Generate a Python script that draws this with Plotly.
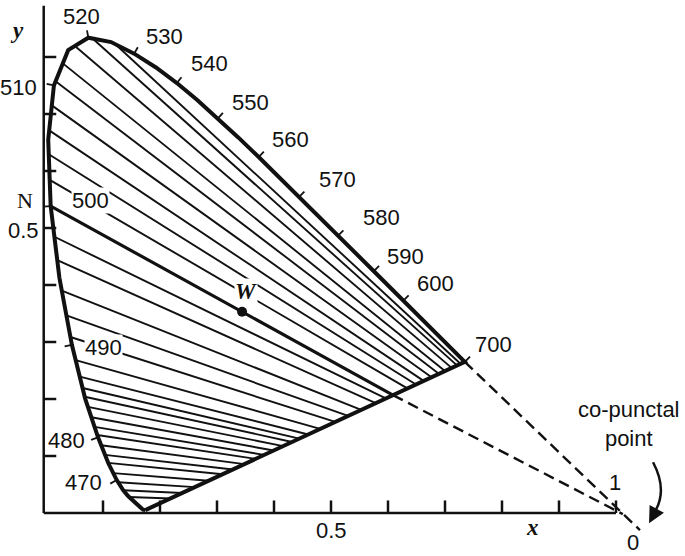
import numpy as np
import plotly.graph_objects as go

# CIE 1931 spectral locus, 380-700 nm in 5 nm steps
wavelengths = list(range(380, 705, 5))
locus_x = [0.1741, 0.1740, 0.1738, 0.1736, 0.1733, 0.1730, 0.1726, 0.1721, 0.1714, 0.1703,
           0.1689, 0.1669, 0.1644, 0.1611, 0.1566, 0.1510, 0.1440, 0.1355, 0.1241, 0.1096,
           0.0913, 0.0687, 0.0454, 0.0235, 0.0082, 0.0039, 0.0139, 0.0389, 0.0743, 0.1142,
           0.1547, 0.1929, 0.2296, 0.2658, 0.3016, 0.3373, 0.3731, 0.4087, 0.4441, 0.4788,
           0.5125, 0.5448, 0.5752, 0.6029, 0.6270, 0.6482, 0.6658, 0.6801, 0.6915, 0.7006,
           0.7079, 0.7140, 0.7190, 0.7230, 0.7260, 0.7283, 0.7300, 0.7311, 0.7320, 0.7327,
           0.7334, 0.7340, 0.7344, 0.7346, 0.7347]
locus_y = [0.0050, 0.0050, 0.0049, 0.0049, 0.0048, 0.0048, 0.0048, 0.0048, 0.0051, 0.0058,
           0.0069, 0.0086, 0.0109, 0.0138, 0.0177, 0.0227, 0.0297, 0.0399, 0.0578, 0.0868,
           0.1327, 0.2007, 0.2950, 0.4127, 0.5384, 0.6548, 0.7502, 0.8120, 0.8338, 0.8262,
           0.8059, 0.7816, 0.7543, 0.7243, 0.6923, 0.6589, 0.6245, 0.5896, 0.5547, 0.5202,
           0.4866, 0.4544, 0.4242, 0.3965, 0.3725, 0.3514, 0.3340, 0.3197, 0.3083, 0.2993,
           0.2920, 0.2859, 0.2809, 0.2770, 0.2740, 0.2717, 0.2700, 0.2689, 0.2680, 0.2673,
           0.2666, 0.2660, 0.2656, 0.2654, 0.2653]

labelled_nm = [470, 480, 490, 500, 510, 520, 530, 540, 550, 560, 570, 580, 590, 600, 700]

# where each confusion line leaves the left/top part of the locus
anchor_x = [0.133, 0.081, 0.051, 0.033, 0.025, 0.016, 0.012, 0.012, 0.016,
            0.016, 0.019, 0.026, 0.035, 0.042, 0.053, 0.060, 0.065, 0.068, 0.074,
            0.079, 0.086, 0.089, 0.096, 0.104, 0.109, 0.118, 0.126, 0.135, 0.146]
anchor_y = [0.812, 0.833, 0.819, 0.786, 0.751, 0.711, 0.667, 0.625, 0.579,
            0.484, 0.444, 0.391, 0.347, 0.309, 0.268, 0.239, 0.219, 0.204, 0.186,
            0.168, 0.151, 0.137, 0.119, 0.102, 0.088, 0.070, 0.054, 0.040, 0.028]

white_x, white_y = 0.344, 0.353
copunctal_x, copunctal_y = 1.012, -0.002
dash_end_x, dash_end_y = 1.042, -0.030

x_ticks = [0.1, 0.2, 0.3, 0.4, 0.5, 0.6, 0.7, 0.8, 0.9, 1.0]
y_ticks = [0.1, 0.2, 0.3, 0.4, 0.5, 0.6, 0.7, 0.8]

# curved pointer under "co-punctal point": start, control, end
arrow_pts = [(1.065, 0.089), (1.091, 0.040), (1.068, 0.002)]
arrow_tip = (1.058, -0.018)

# label offsets from the locus point, pixels (right, down)
label_off = {470: (-33, 2), 480: (-32, 3), 490: (32, 3), 500: (40, -6), 510: (-35, 2),
             520: (-7, -21), 530: (30, -17), 540: (33, -20), 550: (33, -16), 560: (32, -18),
             570: (38, -17), 580: (43, -18), 590: (32, -15), 600: (32, -17), 700: (29, -17)}

INK = "#111111"
SANS = "Liberation Sans, Arial, sans-serif"
SERIF = "Liberation Serif, Times New Roman, serif"

SCALE = 570.0      # pixels per chromaticity unit
X0_PX, Y0_PX = 46, 513

poly_x = locus_x + [locus_x[0]]
poly_y = locus_y + [locus_y[0]]


def chord(x0, y0, x1, y1):
    # segment of the line through (x0,y0)-(x1,y1) that lies inside the gamut
    a = np.array([x0, y0])
    d = np.array([x1 - x0, y1 - y0])
    ts = []
    for i in range(len(poly_x) - 1):
        p1 = np.array([poly_x[i], poly_y[i]])
        e = np.array([poly_x[i + 1], poly_y[i + 1]]) - p1
        den = d[0] * e[1] - d[1] * e[0]
        if abs(den) < 1e-12:
            continue
        w = p1 - a
        t = (w[0] * e[1] - w[1] * e[0]) / den
        s = (w[0] * d[1] - w[1] * d[0]) / den
        if -1e-9 <= s <= 1 + 1e-9:
            ts.append(t)
    return a + min(ts) * d, a + max(ts) * d


fig = go.Figure()

# confusion lines
cx, cy = [], []
for ax_, ay_ in zip(anchor_x, anchor_y):
    p, q = chord(ax_, ay_, copunctal_x, copunctal_y)
    cx += [p[0], q[0], None]
    cy += [p[1], q[1], None]
fig.add_trace(go.Scatter(x=cx, y=cy, mode="lines", line=dict(color=INK, width=1.9),
                         hoverinfo="skip"))

# neutral line through W
i500 = wavelengths.index(500)
n0, n1 = chord(locus_x[i500], locus_y[i500], white_x, white_y)
fig.add_trace(go.Scatter(x=[n0[0], n1[0]], y=[n0[1], n1[1]], mode="lines",
                         line=dict(color=INK, width=3.2), hoverinfo="skip"))

# dashed lines to the co-punctal point
fig.add_trace(go.Scatter(x=[n1[0], copunctal_x, None, locus_x[-1], dash_end_x],
                         y=[n1[1], copunctal_y, None, locus_y[-1], dash_end_y],
                         mode="lines", line=dict(color=INK, width=2.4, dash="11px,6px"),
                         hoverinfo="skip"))

# spectral locus and purple line
fig.add_trace(go.Scatter(x=poly_x, y=poly_y, mode="lines",
                         line=dict(color=INK, width=4), hoverinfo="skip"))

# wavelength ticks on the locus
tx, ty = [], []
for nm in labelled_nm:
    i = wavelengths.index(nm)
    j0, j1 = max(i - 1, 0), min(i + 1, len(wavelengths) - 1)
    t = np.array([locus_x[j1] - locus_x[j0], locus_y[j1] - locus_y[j0]])
    t = t / np.hypot(*t)
    nrm = np.array([-t[1], t[0]])
    tx += [locus_x[i], locus_x[i] + 0.013 * nrm[0], None]
    ty += [locus_y[i], locus_y[i] + 0.013 * nrm[1], None]
fig.add_trace(go.Scatter(x=tx, y=ty, mode="lines", line=dict(color=INK, width=1.8),
                         hoverinfo="skip"))

# axes with inward ticks
ax_x = [-0.004, 1.0, None] + sum([[v, v, None] for v in x_ticks], [])
ax_y = [0, 0, None] + sum([[0, 0.022, None] for v in x_ticks], [])
ax_x += [-0.004, -0.004, None] + sum([[-0.004, 0.018, None] for v in y_ticks], [])
ax_y += [0, 0.89, None] + sum([[v, v, None] for v in y_ticks], [])
fig.add_trace(go.Scatter(x=ax_x, y=ax_y, mode="lines", line=dict(color=INK, width=2.5),
                         hoverinfo="skip"))

annotations = []
for nm in labelled_nm:
    i = wavelengths.index(nm)
    dx, dy = label_off[nm]
    annotations.append(dict(x=locus_x[i], y=locus_y[i], text=str(nm), showarrow=False,
                            xshift=dx, yshift=-dy, font=dict(family=SANS, size=22, color=INK),
                            bgcolor="white" if nm in (490, 500) else None, borderpad=0))

plain = [("0.5", -0.040, 0.495, SANS), ("0.5", 0.5, -0.030, SANS),
         ("1", 0.998, 0.053, SANS), ("0", 1.030, -0.051, SANS),
         ("co-punctal<br>point", 1.023, 0.156, SANS), ("N", -0.037, 0.549, SERIF)]
for text, x, y, fam in plain:
    annotations.append(dict(x=x, y=y, text=text, showarrow=False,
                            font=dict(family=fam, size=22, color=INK)))

for text, x, y, bg in [("<b><i>y</i></b>", -0.051, 0.847, None),
                       ("<b><i>x</i></b>", 0.853, -0.026, None),
                       ("<b><i>W</i></b>", 0.351, 0.389, "white")]:
    annotations.append(dict(x=x, y=y, text=text, showarrow=False, bgcolor=bg, borderpad=0,
                            font=dict(family=SERIF, size=23, color=INK)))

annotations.append(dict(x=arrow_tip[0], y=arrow_tip[1], text="", showarrow=True,
                        ax=7, ay=-13, arrowhead=2, arrowsize=1.3, arrowwidth=2.5,
                        arrowcolor=INK))

(sx, sy), (qx, qy), (ex, ey) = arrow_pts
fig.add_shape(type="path", xref="x", yref="y",
              path=f"M {sx},{sy} Q {qx},{qy} {ex},{ey}",
              line=dict(color=INK, width=2.5))

# white point, drawn above the W label box
fig.add_trace(go.Scatter(x=[white_x], y=[white_y], mode="markers",
                         marker=dict(color=INK, size=10), hoverinfo="skip"))

fig.update_layout(width=685, height=556, margin=dict(l=0, r=0, t=0, b=0),
                  plot_bgcolor="white", paper_bgcolor="white", showlegend=False,
                  annotations=annotations)
fig.update_xaxes(range=[-X0_PX / SCALE, (685 - X0_PX) / SCALE], visible=False)
fig.update_yaxes(range=[(Y0_PX - 556) / SCALE, Y0_PX / SCALE], visible=False)

# drop the browser's default body margin so the figure fills the window
fig.write_html("out.html", config={"displayModeBar": False},
               post_script="document.body.style.margin = '0';")
